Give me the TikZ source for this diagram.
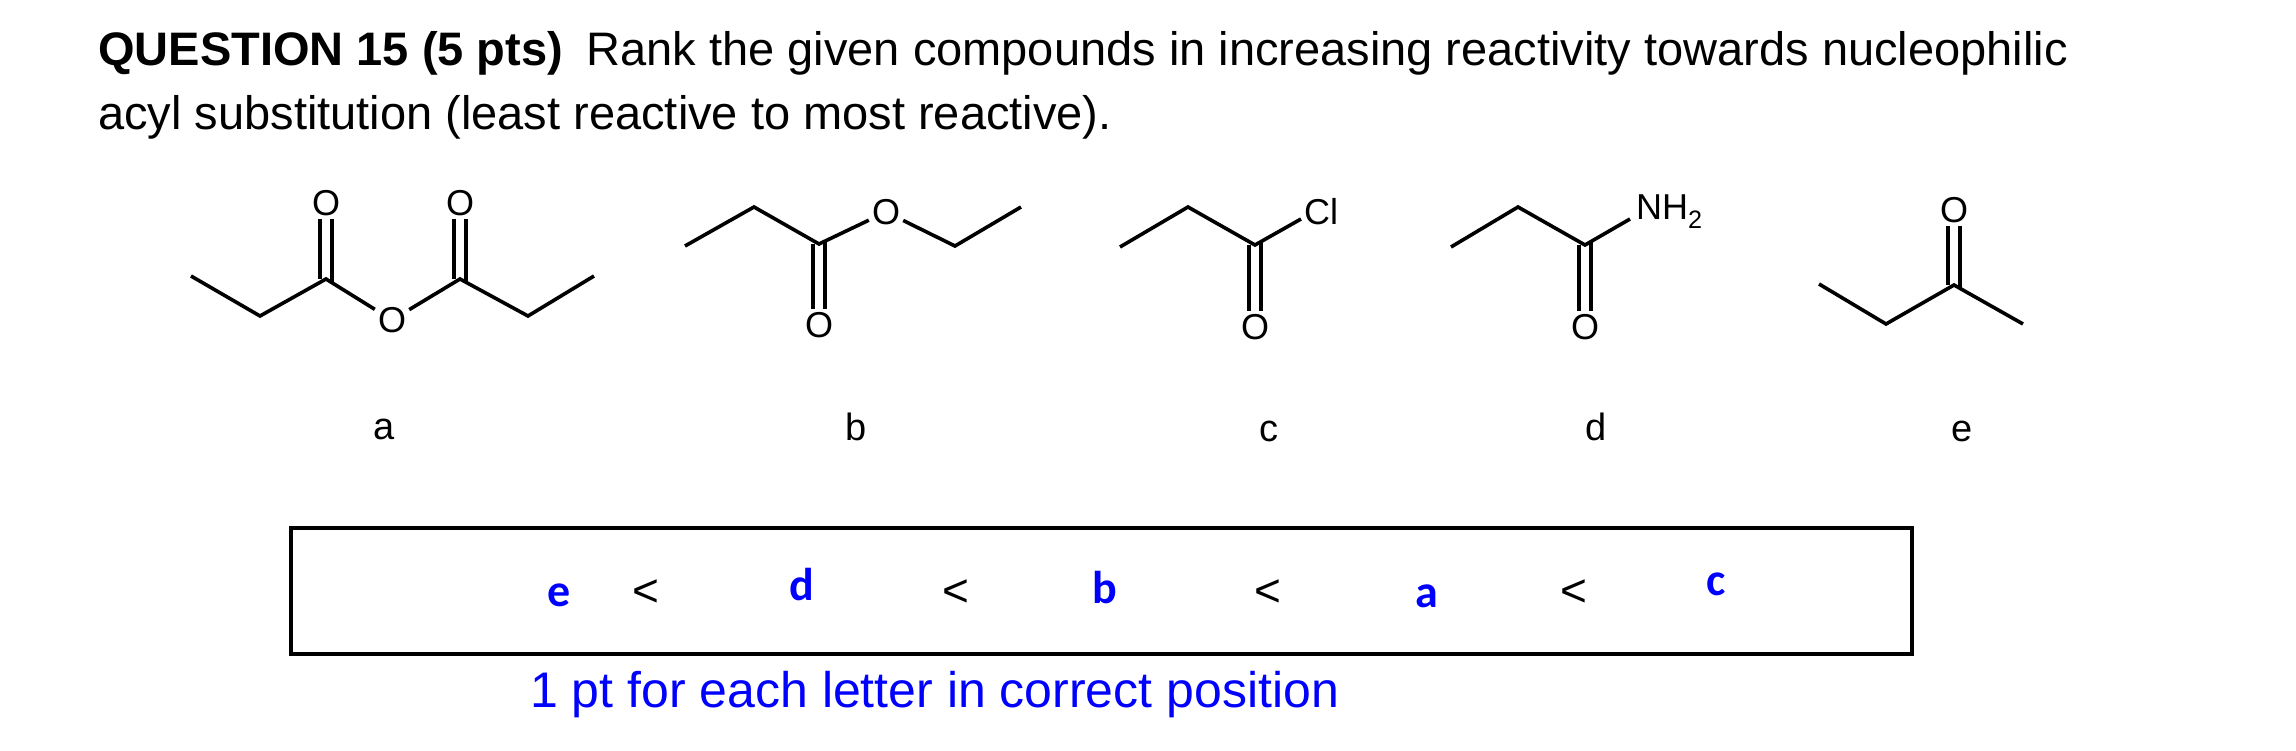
\documentclass[tikz,border=0pt]{standalone}
\usepackage{fontspec}
\setmainfont{Liberation Sans}
\newfontfamily\answerfont{Carlito}
\begin{document}
\begin{tikzpicture}[x=1pt,y=-1pt,
  bond/.style={line width=3.6pt,line cap=butt},
  atom/.style={font=\fontsize{36}{36}\selectfont,inner sep=3pt},
  lbl/.style={font=\fontsize{38}{38}\selectfont},
  ans/.style={font=\answerfont\bfseries\fontsize{46}{46}\selectfont,text=blue},
  lt/.style={font=\fontsize{46}{46}\selectfont}]
\useasboundingbox (0,0) rectangle (2296,751);
\node[anchor=base west,font=\fontsize{47}{47}\selectfont,inner sep=0] (t1) at (98,66) {\textbf{QUESTION 15 (5 pts)}\enspace Rank the given compounds in increasing reactivity towards nucleophilic};
\node[anchor=base west,font=\fontsize{47}{47}\selectfont,inner sep=0] (t2) at (98,130) {acyl substitution (least reactive to most reactive).};
% a
\coordinate (a1) at (191,276); \coordinate (a2) at (260,316); \coordinate (a3) at (326,279);
\node[atom] (aO) at (392,320) {O};
\coordinate (a5) at (460,279); \coordinate (a6) at (528,316); \coordinate (a7) at (594,276);
\node[atom] (aO1) at (326,203) {O}; \node[atom] (aO2) at (460,203) {O};
\draw[bond] (a1) -- (a2) -- (a3) -- (aO); \draw[bond] (aO) -- (a5) -- (a6) -- (a7);
\draw[bond] ([xshift=-6]a3) -- ([xshift=-6]aO1.south); \draw[bond] ([xshift=6,yshift=-3]a3) -- ([xshift=6]aO1.south);
\draw[bond] ([xshift=-6]a5) -- ([xshift=-6]aO2.south); \draw[bond] ([xshift=6,yshift=-3]a5) -- ([xshift=6]aO2.south);
% b
\coordinate (b1) at (685,246); \coordinate (b2) at (754,207); \coordinate (b3) at (819,244);
\node[atom] (bO) at (886,212) {O}; \coordinate (b5) at (955,246); \coordinate (b6) at (1021,207);
\node[atom] (bO1) at (819,325) {O};
\draw[bond] (b1) -- (b2) -- (b3) -- (bO); \draw[bond] (bO) -- (b5) -- (b6);
\draw[bond] ([xshift=-6]b3) -- ([xshift=-6]bO1.north); \draw[bond] ([xshift=6,yshift=3]b3) -- ([xshift=6]bO1.north);
% c
\coordinate (c1) at (1120,247); \coordinate (c2) at (1188,207); \coordinate (c3) at (1255,245);
\node[atom,anchor=west,inner sep=2pt] (cCl) at (1302,212) {Cl};
\node[atom] (cO1) at (1255,327) {O};
\draw[bond] (c1) -- (c2) -- (c3) -- (1301,219);
\draw[bond] ([xshift=-6]c3) -- ([xshift=-6]cO1.north); \draw[bond] ([xshift=6,yshift=3]c3) -- ([xshift=6]cO1.north);
% d
\coordinate (d1) at (1451,247); \coordinate (d2) at (1518,207); \coordinate (d3) at (1585,245);
\node[atom,anchor=west,inner sep=2pt] (dN) at (1634,212) {NH\textsubscript{2}};
\node[atom] (dO1) at (1585,327) {O};
\draw[bond] (d1) -- (d2) -- (d3) -- (1630,219);
\draw[bond] ([xshift=-6]d3) -- ([xshift=-6]dO1.north); \draw[bond] ([xshift=6,yshift=3]d3) -- ([xshift=6]dO1.north);
% e
\coordinate (e1) at (1819,284); \coordinate (e2) at (1886,324); \coordinate (e3) at (1954,285); \coordinate (e4) at (2023,324);
\node[atom] (eO) at (1954,210) {O};
\draw[bond] (e1) -- (e2) -- (e3) -- (e4);
\draw[bond] ([xshift=-6]e3) -- ([xshift=-6]eO.south); \draw[bond] ([xshift=6,yshift=-3]e3) -- ([xshift=6]eO.south);
% labels
\node[lbl] (la) at (384,429) {a}; \node[lbl] (lb) at (856,427) {b}; \node[lbl] (lc) at (1269,431) {c};
\node[lbl] (ld) at (1596,427) {d}; \node[lbl] (le) at (1962,431) {e};
% box
\draw[line width=3.8pt] (291,528) rectangle (1912,654);
\node[ans] (x1) at (559,595) {e}; \node[lt] (y1) at (646,593) {<};
\node[ans] (x2) at (802,585) {d}; \node[lt] (y2) at (956,593) {<};
\node[ans] (x3) at (1105,588) {b}; \node[lt] (y3) at (1268,593) {<};
\node[ans] (x4) at (1427,596) {a}; \node[lt] (y4) at (1574,593) {<};
\node[ans] (x5) at (1716,584) {c};
\node[anchor=base west,font=\fontsize{50}{50}\selectfont,text=blue,inner sep=0] (foot) at (530,707) {1 pt for each letter in correct position};
\end{tikzpicture}
\end{document}
